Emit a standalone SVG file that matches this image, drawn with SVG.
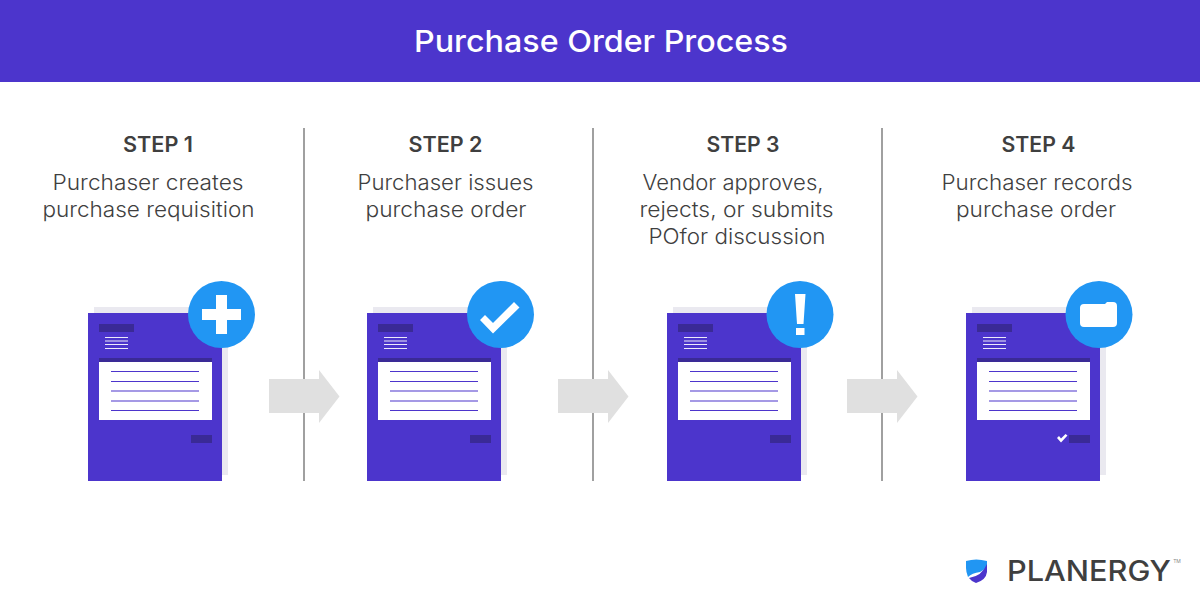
<svg xmlns="http://www.w3.org/2000/svg" width="1200" height="598" viewBox="0 0 1200 598">
<style>
text{font-family:Inter,"Liberation Sans",sans-serif;text-anchor:middle}
.title{font-size:30px;font-weight:500;fill:#fff}
.step{font-size:21px;font-weight:600;fill:#3f3f3f}
.desc{font-size:21px;font-weight:300;fill:#3f3f3f}
.div{stroke:#a0a0a0;stroke-width:2;fill:none}
.arrow{fill:#e0e0e0}
.blue{fill:#2196f3}
.ico{fill:#fff}
.dark{fill:#3a2a96}
.wl{stroke:#fff;stroke-width:1;opacity:.9}
.pl{stroke:#4d35cc;stroke-width:1.2}
</style>
<defs>
<g id="doc">
<rect x="94" y="307" width="134" height="168" fill="#eae9f0"/>
<rect x="88" y="313" width="134" height="168" fill="#4c35cc"/>
<rect class="dark" x="99" y="324" width="35" height="8"/>
<path class="wl" d="M105 337.500H128M105 341H128M105 344.500H128M105 348.500H128"/>
<rect class="dark" x="99" y="358" width="113" height="4"/>
<rect x="99" y="362" width="113" height="58" fill="#fff"/>
<path class="pl" d="M111 371.500H199M111 381.500H199M111 391H199M111 401H199M111 410.500H199"/>
<rect class="dark" x="191" y="435" width="21" height="8"/>
</g>
</defs>
<rect width="1200" height="82" fill="#4c35cc"/>
<text class="title" x="601" y="52" textLength="374" lengthAdjust="spacingAndGlyphs">Purchase Order Process</text>
<g id="connectors">
<path class="div" d="M304 128V481M593 128V481M882 128V481"/>
<path class="arrow" d="M269 379H319V370L339.500 396.500L319 423V413H269Z"/>
<path class="arrow" d="M558 379H608V370L628.500 396.500L608 423V413H558Z"/>
<path class="arrow" d="M847 379H897V370L917.500 396.500L897 423V413H847Z"/>
</g>
<g id="step1">
<text class="step" x="158" y="152" textLength="70" lengthAdjust="spacingAndGlyphs">STEP 1</text>
<text class="desc" x="148" y="190" textLength="191" lengthAdjust="spacingAndGlyphs">Purchaser creates</text>
<text class="desc" x="148.500" y="217" textLength="212" lengthAdjust="spacingAndGlyphs">purchase requisition</text>
<use href="#doc"/>
<circle class="blue" cx="221.500" cy="314.500" r="33.500"/>
<path class="ico" d="M216 295H227V309H241V320H227V334H216V320H202V309H216Z"/>
</g>
<g id="step2">
<text class="step" x="445.500" y="152" textLength="74" lengthAdjust="spacingAndGlyphs">STEP 2</text>
<text class="desc" x="445.500" y="190" textLength="176" lengthAdjust="spacingAndGlyphs">Purchaser issues</text>
<text class="desc" x="446" y="217" textLength="161" lengthAdjust="spacingAndGlyphs">purchase order</text>
<use href="#doc" x="279"/>
<circle class="blue" cx="500.500" cy="314.500" r="33.500"/>
<path class="ico" d="M480 320L485 315L493 323L514 302L519.500 307.500L493 333.500Z"/>
</g>
<g id="step3">
<text class="step" x="743" y="152" textLength="73" lengthAdjust="spacingAndGlyphs">STEP 3</text>
<text class="desc" x="733" y="190" textLength="181" lengthAdjust="spacingAndGlyphs">Vendor approves,</text>
<text class="desc" x="736.500" y="217" textLength="194" lengthAdjust="spacingAndGlyphs">rejects, or submits</text>
<text class="desc" x="737" y="244" textLength="177" lengthAdjust="spacingAndGlyphs">POfor discussion</text>
<use href="#doc" x="579"/>
<circle class="blue" cx="800" cy="314.500" r="33.500"/>
<path class="ico" d="M795 294H805.500L803.500 324H797ZM796 328H804.500V335H796Z"/>
</g>
<g id="step4">
<text class="step" x="1038.500" y="152" textLength="74" lengthAdjust="spacingAndGlyphs">STEP 4</text>
<text class="desc" x="1037" y="190" textLength="191" lengthAdjust="spacingAndGlyphs">Purchaser records</text>
<text class="desc" x="1036" y="217" textLength="160" lengthAdjust="spacingAndGlyphs">purchase order</text>
<use href="#doc" x="878"/>
<circle class="blue" cx="1099" cy="314.500" r="33.500"/>
<path class="ico" d="M1084 304H1105L1107 302H1113Q1117 302 1117 306V323Q1117 327 1113 327H1084Q1080 327 1080 323V308Q1080 304 1084 304Z"/>
<path class="ico" d="M1057 438L1059 436L1061 438.500L1065.500 434L1067.500 435.500L1061 442.500Z"/>
</g>
<g id="logo">
<path fill="#2196f3" d="M966 561Q976 558 987 561V568Q983 570 980 572Q972 573 968 577Q966 572 966 568Z"/>
<path fill="#4c35cc" d="M987 564V572Q986 580 976 583Q971 581 969 578Q982 576 987 564Z"/>
<text x="1089" y="581" font-size="28" font-weight="500" fill="#3f3f3f" textLength="164" lengthAdjust="spacingAndGlyphs">PLANERGY</text>
<text x="1177" y="563" font-size="5" fill="#888">TM</text>
</g>
</svg>
